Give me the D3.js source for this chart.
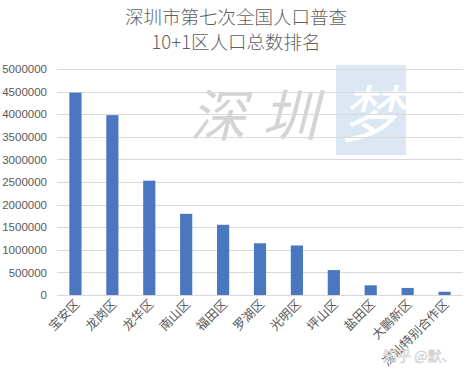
<!DOCTYPE html>
<html>
<head>
<meta charset="utf-8">
<script src="https://cdn.jsdelivr.net/npm/d3@7"></script>
<style>
  body { margin: 0; background: #fff; }
  svg text { font-family: "Noto Sans CJK SC", "Liberation Sans", sans-serif; }
</style>
</head>
<body>
<svg id="chart" width="472" height="379"></svg>
<script>
// districts and population (7th census)
var districts = ["宝安区", "龙岗区", "龙华区", "南山区", "福田区", "罗湖区", "光明区", "坪山区", "盐田区", "大鹏新区", "深汕特别合作区"];
var population = [4476766, 3979037, 2528872, 1795826, 1553225, 1143801, 1095289, 551333, 214225, 156236, 72000];
var yTicks = [0, 500000, 1000000, 1500000, 2000000, 2500000, 3000000, 3500000, 4000000, 4500000, 5000000];
var titleLines = ["深圳市第七次全国人口普查", "10+1区人口总数排名"];

var svg = d3.select("#chart");
var plotLeft = 57, plotRight = 463, plotTop = 69, plotBottom = 295;

var x = d3.scaleBand().domain(districts).range([plotLeft, plotRight]).paddingInner(0.67).paddingOuter(0.335);
var y = d3.scaleLinear().domain([0, 5000000]).range([plotBottom, plotTop]);

// watermark logo behind the plot
var logo = svg.append("g");
logo.append("rect").attr("x", 336).attr("y", 65).attr("width", 70).attr("height", 90).attr("fill", "#dbe8f4");
logo.append("text").attr("x", 371).attr("y", 137).attr("text-anchor", "middle")
  .attr("font-size", 62).attr("fill", "#fff").attr("font-style", "italic").text("梦");
logo.append("text").attr("x", 262).attr("y", 136).attr("text-anchor", "middle")
  .attr("font-size", 56).attr("fill", "#d4d4d4").attr("font-style", "italic")
  .attr("letter-spacing", 16).text("深圳");

// gridlines
svg.append("g").selectAll("line")
  .data(yTicks)
  .enter().append("line")
  .attr("x1", plotLeft).attr("x2", plotRight)
  .attr("y1", function(d) { return Math.round(y(d)) + 0.5; })
  .attr("y2", function(d) { return Math.round(y(d)) + 0.5; })
  .attr("stroke", "#d9d9d9").attr("stroke-width", 1);

// y axis labels
var yAxis = svg.append("g")
  .attr("transform", "translate(" + (plotLeft - 10) + ",0)")
  .call(d3.axisLeft(y).tickValues(yTicks).tickSize(0).tickPadding(0).tickFormat(d3.format("d")));
yAxis.select(".domain").remove();
yAxis.selectAll("text").attr("font-size", 11.5).attr("fill", "#595959")
  .style("font-family", "'Liberation Sans', Arial, sans-serif");

// bars
svg.append("g").selectAll("rect")
  .data(population)
  .enter().append("rect")
  .attr("x", function(d, i) { return x(districts[i]); })
  .attr("y", function(d) { return y(d); })
  .attr("width", x.bandwidth())
  .attr("height", function(d) { return plotBottom - y(d); })
  .attr("fill", "#4a77bf");

// x labels rotated
svg.append("g").selectAll("text")
  .data(districts)
  .enter().append("text")
  .attr("transform", function(d) {
    return "translate(" + (x(d) + x.bandwidth() / 2 + 5) + "," + (plotBottom + 10) + ") rotate(-45)";
  })
  .attr("text-anchor", "end")
  .attr("font-size", 12.5)
  .attr("fill", "#595959")
  .text(function(d) { return d; });

// title
svg.append("g").selectAll("text")
  .data(titleLines)
  .enter().append("text")
  .attr("x", 236)
  .attr("y", function(d, i) { return 24 + i * 25; })
  .attr("text-anchor", "middle")
  .attr("font-size", 18.5)
  .attr("font-weight", 300)
  .attr("fill", "#5f5f5f")
  .text(function(d) { return d; });

// zhihu watermark
svg.append("text").attr("x", 383).attr("y", 361).attr("font-size", 14)
  .attr("fill", "#e6e6e6").attr("stroke", "#c8c8c8").attr("stroke-width", 0.4)
  .text("知乎 @默、");
</script>
</body>
</html>
